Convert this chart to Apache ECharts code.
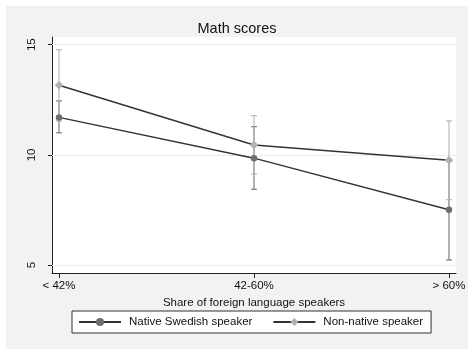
<!DOCTYPE html>
<html><head><meta charset="utf-8">
<script src="https://cdn.jsdelivr.net/npm/echarts@6/dist/echarts.min.js"></script>
<style>html,body{margin:0;padding:0;background:#fff}#c{width:474px;height:356px}</style>
</head><body><div id="c"></div>
<script>
const categories = ['< 42%', '42-60%', '> 60%'];
const yTicks = [5, 10, 15];
const nativeMean = [11.70, 9.85, 7.51];
const nativeLow = [11.00, 8.44, 5.23];
const nativeHigh = [12.45, 11.28, 9.79];
const nonMean = [13.16, 10.45, 9.76];
const nonLow = [11.54, 9.13, 7.97];
const nonHigh = [14.77, 11.78, 11.54];

const FONT = 'Liberation Sans';
const xIdx = categories.map((c, i) => i);

function errData(lo, hi) { return xIdx.map(i => [i, lo[i], hi[i]]); }
function errSeries(name, lo, hi, color) {
  return {
    type: 'custom', name: name, z: 2, silent: true,
    data: errData(lo, hi),
    encode: { x: 0, y: [1, 2] },
    renderItem: function (params, api) {
      const x = api.value(0);
      const p1 = api.coord([x, api.value(1)]);
      const p2 = api.coord([x, api.value(2)]);
      const w = 3;
      const st = { stroke: color, lineWidth: 1.1 };
      return { type: 'group', children: [
        { type: 'line', shape: { x1: p1[0], y1: p1[1], x2: p2[0], y2: p2[1] }, style: st },
        { type: 'line', shape: { x1: p1[0] - w, y1: p1[1], x2: p1[0] + w, y2: p1[1] }, style: st },
        { type: 'line', shape: { x1: p2[0] - w, y1: p2[1], x2: p2[0] + w, y2: p2[1] }, style: st }
      ]};
    }
  };
}

const chart = echarts.init(document.getElementById('c'), null, { renderer: 'canvas' });
chart.setOption({
  animation: false,
  backgroundColor: '#ffffff',
  textStyle: { fontFamily: FONT },
  graphic: [{ type: 'rect', z: -10, shape: { x: 6, y: 6, width: 462, height: 343 }, style: { fill: '#f2f2f2' } }],
  title: { text: 'Math scores', left: 'center', top: 16,
    textStyle: { fontFamily: FONT, fontSize: 14.5, fontWeight: 'normal', color: '#111' } },
  grid: { left: 52, right: 18, top: 37, bottom: 83, show: true, backgroundColor: '#ffffff', borderWidth: 0 },
  xAxis: {
    type: 'value', min: -0.036, max: 2.036,
    name: 'Share of foreign language speakers', nameLocation: 'middle', nameGap: 20,
    nameTextStyle: { fontFamily: FONT, fontSize: 11.5, color: '#111' },
    axisLine: { show: true, onZero: false, lineStyle: { color: '#222', width: 1 } },
    axisTick: { show: true, length: 5, customValues: xIdx, lineStyle: { color: '#222' } },
    axisLabel: { customValues: xIdx, formatter: v => categories[Math.round(v)], margin: 7,
      fontFamily: FONT, fontSize: 11.5, color: '#111' },
    splitLine: { show: false }
  },
  yAxis: {
    type: 'value', min: 4.64, max: 15.35,
    axisLine: { show: true, onZero: false, lineStyle: { color: '#222', width: 1 } },
    axisTick: { show: true, length: 4, customValues: yTicks, lineStyle: { color: '#222' } },
    axisLabel: { customValues: yTicks, rotate: 90, margin: 14,
      fontFamily: FONT, fontSize: 11.5, color: '#111' },
    splitLine: { show: false }
  },
  legend: {
    data: ['Native Swedish speaker', 'Non-native speaker'],
    left: 72, top: 311, width: 362,
    padding: [5, 8, 5, 6], itemGap: 20, itemWidth: 42, itemHeight: 10,
    borderColor: '#333', borderWidth: 1, backgroundColor: '#ffffff',
    textStyle: { fontFamily: FONT, fontSize: 11.5, color: '#111', padding: [0, 0, 0, 3] }
  },
  series: [
    errSeries('errN', nativeLow, nativeHigh, '#707070'),
    errSeries('errNN', nonLow, nonHigh, '#b4b4b4'),
    {
      type: 'line', name: 'Native Swedish speaker', z: 5,
      data: xIdx.map(i => [i, nativeMean[i]]),
      symbol: 'circle', symbolSize: 6.5,
      itemStyle: { color: '#6e6e6e' },
      lineStyle: { color: '#333333', width: 1.4 },
      markLine: { silent: true, symbol: 'none', label: { show: false }, z: 1,
        lineStyle: { color: '#ececec', type: 'solid', width: 1 },
        data: yTicks.map(v => ({ yAxis: v })) }
    },
    {
      type: 'line', name: 'Non-native speaker', z: 5,
      data: xIdx.map(i => [i, nonMean[i]]),
      symbol: 'diamond', symbolSize: 8.5,
      itemStyle: { color: '#b0b0b0' },
      lineStyle: { color: '#333333', width: 1.4 }
    }
  ]
});
</script></body></html>
